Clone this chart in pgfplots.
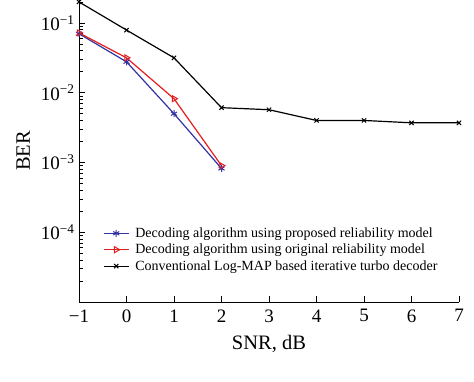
\documentclass[border=0pt]{standalone}
\usepackage{pgfplots}
\pgfplotsset{compat=1.18}
\usepackage{fontspec}
\setmainfont{Liberation Serif}
\definecolor{cblue}{RGB}{50,50,165}
\definecolor{cred}{RGB}{228,30,30}
\begin{document}
\begin{tikzpicture}
\begin{axis}[name=ax, scale only axis, width=380pt, height=302pt,
 ymode=log, xmin=-1, xmax=7, ymin=1e-5, ymax=0.213,
 axis x line*=bottom, axis y line*=left, axis line style={-, line width=0.8pt},
 tick align=inside, major tick length=6pt, minor tick length=4pt,
 tick style={line width=0.7pt, black},
 xtick={-1,0,1,2,3,4,5,6,7}, xticklabels={−1,0,1,2,3,4,5,6,7},
 ytick={1e-5,1e-4,1e-3,1e-2,1e-1},
 yticklabels={,10\textsuperscript{−4},10\textsuperscript{−3},10\textsuperscript{−2},10\textsuperscript{−1}},
 minor ytick={2e-5,3e-5,4e-5,5e-5,6e-5,7e-5,8e-5,9e-5,
   2e-4,3e-4,4e-4,5e-4,6e-4,7e-4,8e-4,9e-4,
   2e-3,3e-3,4e-3,5e-3,6e-3,7e-3,8e-3,9e-3,
   2e-2,3e-2,4e-2,5e-2,6e-2,7e-2,8e-2,9e-2,2e-1},
 tick label style={font=\fontsize{19}{19}\selectfont},
 xticklabel style={yshift=-4pt},
 yticklabel style={xshift=-1pt},
 label style={font=\fontsize{20.5}{20.5}\selectfont},
 xlabel={SNR, dB}, ylabel={BER},
 xlabel style={yshift=-6pt},
 ylabel style={yshift=4pt},
 legend style={draw=none, fill=none, font=\fontsize{14}{17}\selectfont,
   at={(axis description cs:0.055,0.262)}, anchor=north west,
   nodes={inner xsep=6pt, inner ysep=2.6pt}},
 legend cell align=left,
 legend image code/.code={\draw[mark repeat=2,mark phase=2] plot coordinates {(0pt,0pt) (12.5pt,0pt) (25pt,0pt)};},
]
\addplot[cblue, line width=1.2pt, mark=asterisk, mark size=3.5pt, mark options={line width=1pt}]
 coordinates {(-1,0.070) (0,0.0277) (1,0.0050) (2,0.00082)};
\addlegendentry{Decoding algorithm using proposed reliability model}
\addplot[cred, line width=1.2pt, mark=triangle, mark size=3.5pt, mark options={rotate=-90, line width=1pt, fill=white}]
 coordinates {(-1,0.072) (0,0.0316) (1,0.0082) (2,0.00090)};
\addlegendentry{Decoding algorithm using original reliability model}
\addplot[black, line width=1.2pt, mark=x, mark size=3pt, mark options={line width=1pt}]
 coordinates {(-1,0.200) (0,0.079) (1,0.0316) (2,0.0061) (3,0.0057) (4,0.0040) (5,0.0040) (6,0.0037) (7,0.0037)};
\addlegendentry{Conventional Log-MAP based iterative turbo decoder}
\end{axis}
\pgfresetboundingbox
\path ([xshift=-79pt,yshift=-79pt]ax.south west) rectangle ([xshift=15pt]ax.north east);
\end{tikzpicture}
\end{document}
